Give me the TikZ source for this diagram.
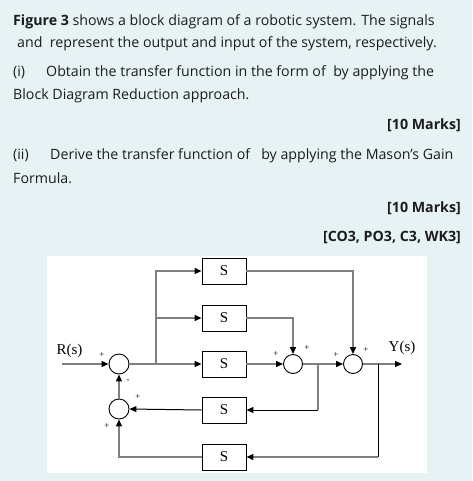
\documentclass[tikz,border=0pt]{standalone}
\usepackage{fontspec}
\setmainfont{Liberation Serif}
\newfontfamily\qfont{Open Sans}
\usetikzlibrary{arrows.meta}
\definecolor{pagebg}{RGB}{231,242,244}
\definecolor{wire}{RGB}{128,128,128}
\definecolor{txt}{RGB}{28,28,28}

\begin{document}
\begin{tikzpicture}[x=1pt,y=-1pt,
  qtext/.style={anchor=base west,inner sep=0pt,text=txt,font=\qfont\fontsize{14.2}{14.2}\selectfont},
  qmark/.style={qtext,anchor=base east,font=\qfont\bfseries\fontsize{14.2}{14.2}\selectfont},
  blk/.style={draw=black,line width=0.9pt,minimum width=44pt,minimum height=26pt,inner sep=0pt,font=\fontsize{15}{15}\selectfont},
  sum/.style={draw=black,circle,minimum size=20pt,inner sep=0pt,line width=0.9pt},
  sgn/.style={inner sep=0pt,font=\fontsize{9}{9}\selectfont},
  lbl/.style={inner sep=0pt,font=\fontsize{15}{15}\selectfont},
  sig/.style={wire,line width=1.3pt,-{Triangle[length=7pt,width=6pt,color=black]}},
  fb/.style={black,line width=1pt,-{Triangle[length=7pt,width=6pt]}},
  ln/.style={wire,line width=1.3pt}]
\fill [pagebg] (0,0) rectangle (472,481);
\fill [white] (47,256) rectangle (427,473);
% question text
\node [qtext] (t1) at (13,26) {\textbf{Figure 3} shows a block diagram of a robotic system. The signals};
\node [qtext] (t2) at (17,48) {and \ represent the output and input of the system, respectively.};
\node [qtext] (t3a) at (13,77) {(i)};
\node [qtext] (t3) at (46,77) {Obtain the transfer function in the form of \ by applying the};
\node [qtext] (t4) at (13,100) {Block Diagram Reduction approach.};
\node [qmark] (m1) at (461,130) {[10 Marks]};
\node [qtext] (t5a) at (13,160) {(ii)};
\node [qtext] (t5) at (50,160) {Derive the transfer function of \ \ by applying the Mason’s Gain};
\node [qtext] (t6) at (13,183) {Formula.};
\node [qmark] (m2) at (461,212) {[10 Marks]};
\node [qmark] (m3) at (461,241) {[CO3, PO3, C3, WK3]};
% blocks
\node [blk] (b1) at (224,271) {S};
\node [blk] (b2) at (224,318) {S};
\node [blk] (b3) at (224,364) {S};
\node [blk] (b4) at (224,410) {S};
\node [blk] (b5) at (224,457) {S};
% summing points
\node [sum] (s1) at (119,364) {};
\node [sum] (s2) at (119,409) {};
\node [sum,minimum size=19pt] (s3) at (293,364) {};
\node [sum,minimum size=19pt] (s4) at (353,364) {};
\coordinate (rin) at (62,364);
\coordinate (br) at (156,364);
\coordinate (fb1) at (318,364);
\coordinate (fb2) at (378,364);
\coordinate (yout) at (402,364);
\node [lbl] (rlab) at (69.5,351) {R(s)};
\node [lbl] (ylab) at (402,348) {Y(s)};
% forward path
\draw [sig] (rin) -- (s1.west);
\draw [sig] (s1.east) -- (b3.west);
\draw [sig] (br) |- (b1.west);
\draw [sig] (br) |- (b2.west);
\draw [sig] (b3.east) -- (s3.west);
\draw [sig] (s3.east) -- (s4.west);
\draw [sig] (s4.east) -- (yout);
\draw [sig] (b2.east) -| (s3.north);
\draw [sig] (b1.east) -| (s4.north);
% feedback paths
\draw [ln] (fb1) -- (fb1 |- b4.east);
\draw [fb] (fb1 |- b4.east) -- (b4.east);
\draw [black,line width=1pt] (fb2) -- (fb2 |- b5.east);
\draw [sig] (fb2 |- b5.east) -- (b5.east);
\draw [fb] (b4.west) -- (s2.east);
\draw [sig] (b5.west) -| (s2.south);
\draw [sig] (s2.north) -- (s1.south);
% signs
\node [sgn] (p1) at (102,355) {+};
\node [sgn] (n1) at (128,381) {-};
\node [sgn] (p2) at (138,397) {+};
\node [sgn] (p3) at (107,426) {+};
\node [sgn] (p4) at (276,354) {+};
\node [sgn] (p5) at (307,348) {+};
\node [sgn] (p6) at (336,355) {+};
\node [sgn] (p7) at (366,350) {+};
\end{tikzpicture}
\end{document}
